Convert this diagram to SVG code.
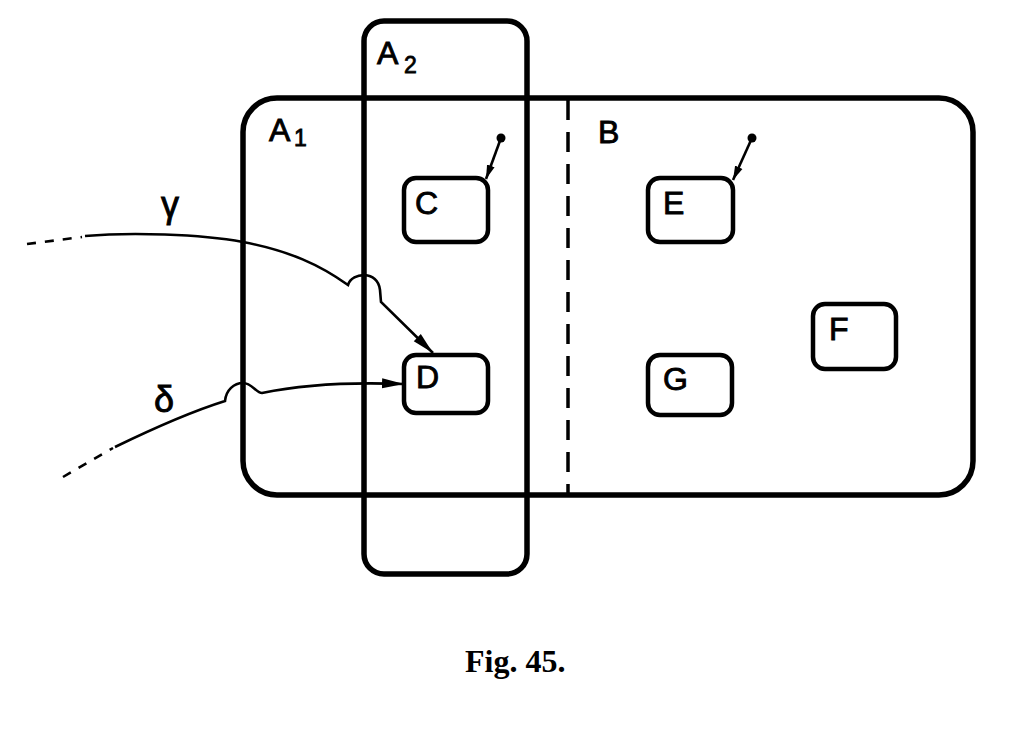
<svg xmlns="http://www.w3.org/2000/svg" width="1028" height="737" viewBox="0 0 1028 737">
<style>
.heavy{fill:none;stroke:#000;stroke-width:5.5}
.box{fill:none;stroke:#000;stroke-width:4.5}
.lbl{font-family:"Liberation Sans",Arial,sans-serif;font-size:32px;fill:#000;stroke:#000;stroke-width:0.9}
.sub{font-family:"Liberation Sans",Arial,sans-serif;font-size:23px;fill:#000;stroke:#000;stroke-width:0.8}
.greek{font-family:"Liberation Sans",Arial,sans-serif;font-size:36px;fill:#000;stroke:#000;stroke-width:0.9}
.wire{fill:none;stroke:#000;stroke-width:2.6}
.dash{fill:none;stroke:#000;stroke-width:2.6;stroke-dasharray:9 9}
.cap{font-family:"Liberation Serif","Times New Roman",serif;font-size:32px;font-weight:bold;fill:#000}
</style>
<defs>
<marker id="arr" markerUnits="userSpaceOnUse" markerWidth="24" markerHeight="14" refX="22" refY="6" orient="auto">
<path d="M0,1 L22,6 L0,11 Z" fill="#000"/>
</marker>
<marker id="arrs" markerUnits="userSpaceOnUse" markerWidth="16" markerHeight="12" refX="14" refY="5" orient="auto">
<path d="M0,1 L14,5 L0,9 Z" fill="#000"/>
</marker>
</defs>
<rect width="1028" height="737" fill="#fff"/>

<g id="A1B">
<rect class="heavy" x="243" y="98" width="730" height="397" rx="34" ry="34"/>
<line x1="568" y1="100" x2="568" y2="495" stroke="#000" stroke-width="3.5" stroke-dasharray="20 12"/>
<text class="lbl" x="269" y="141">A</text>
<text class="sub" x="294" y="146">1</text>
<text class="lbl" x="598" y="143">B</text>
</g>

<g id="A2">
<rect class="heavy" x="364" y="21" width="163" height="553" rx="20" ry="20"/>
<text class="lbl" x="377" y="64">A</text>
<text class="sub" x="404" y="73">2</text>
</g>

<g id="C">
<rect class="box" x="404" y="178" width="84" height="64" rx="12" ry="12"/>
<text class="lbl" x="415" y="214">C</text>
</g>
<g id="D">
<rect class="box" x="404" y="355" width="84" height="58" rx="12" ry="12"/>
<text class="lbl" x="416" y="388">D</text>
</g>
<g id="E">
<rect class="box" x="648" y="178" width="85" height="64" rx="12" ry="12"/>
<text class="lbl" x="663" y="214">E</text>
</g>
<g id="G">
<rect class="box" x="648" y="355" width="84" height="60" rx="12" ry="12"/>
<text class="lbl" x="663" y="390">G</text>
</g>
<g id="F">
<rect class="box" x="813" y="304" width="83" height="65" rx="12" ry="12"/>
<text class="lbl" x="829" y="340">F</text>
</g>

<g id="connectors">
<circle cx="501" cy="138" r="4.5" fill="#000"/>
<path class="wire" d="M501,138 L486,179" marker-end="url(#arrs)"/>
<circle cx="752" cy="138" r="4.5" fill="#000"/>
<path class="wire" d="M752,138 L733,180" marker-end="url(#arrs)"/>
<path class="dash" d="M27,244 L82,237"/>
<path class="wire" d="M85,236 C130,232 200,234 243,242 C290,251 320,265 348,285 C352,272 378,270 380,290 L381,302 L433,353" marker-end="url(#arr)"/>
<text class="greek" x="161" y="217">γ</text>
<path class="dash" d="M63,477 L113,448"/>
<path class="wire" d="M115,447 C150,430 190,412 225,401 C226,390 234,383 243,383 C252,383 256,393 262,393 C300,385 350,382 404,384" marker-end="url(#arr)"/>
<text class="greek" x="154" y="412">δ</text>
</g>

<text class="cap" x="465" y="672">Fig. 45.</text>
</svg>
